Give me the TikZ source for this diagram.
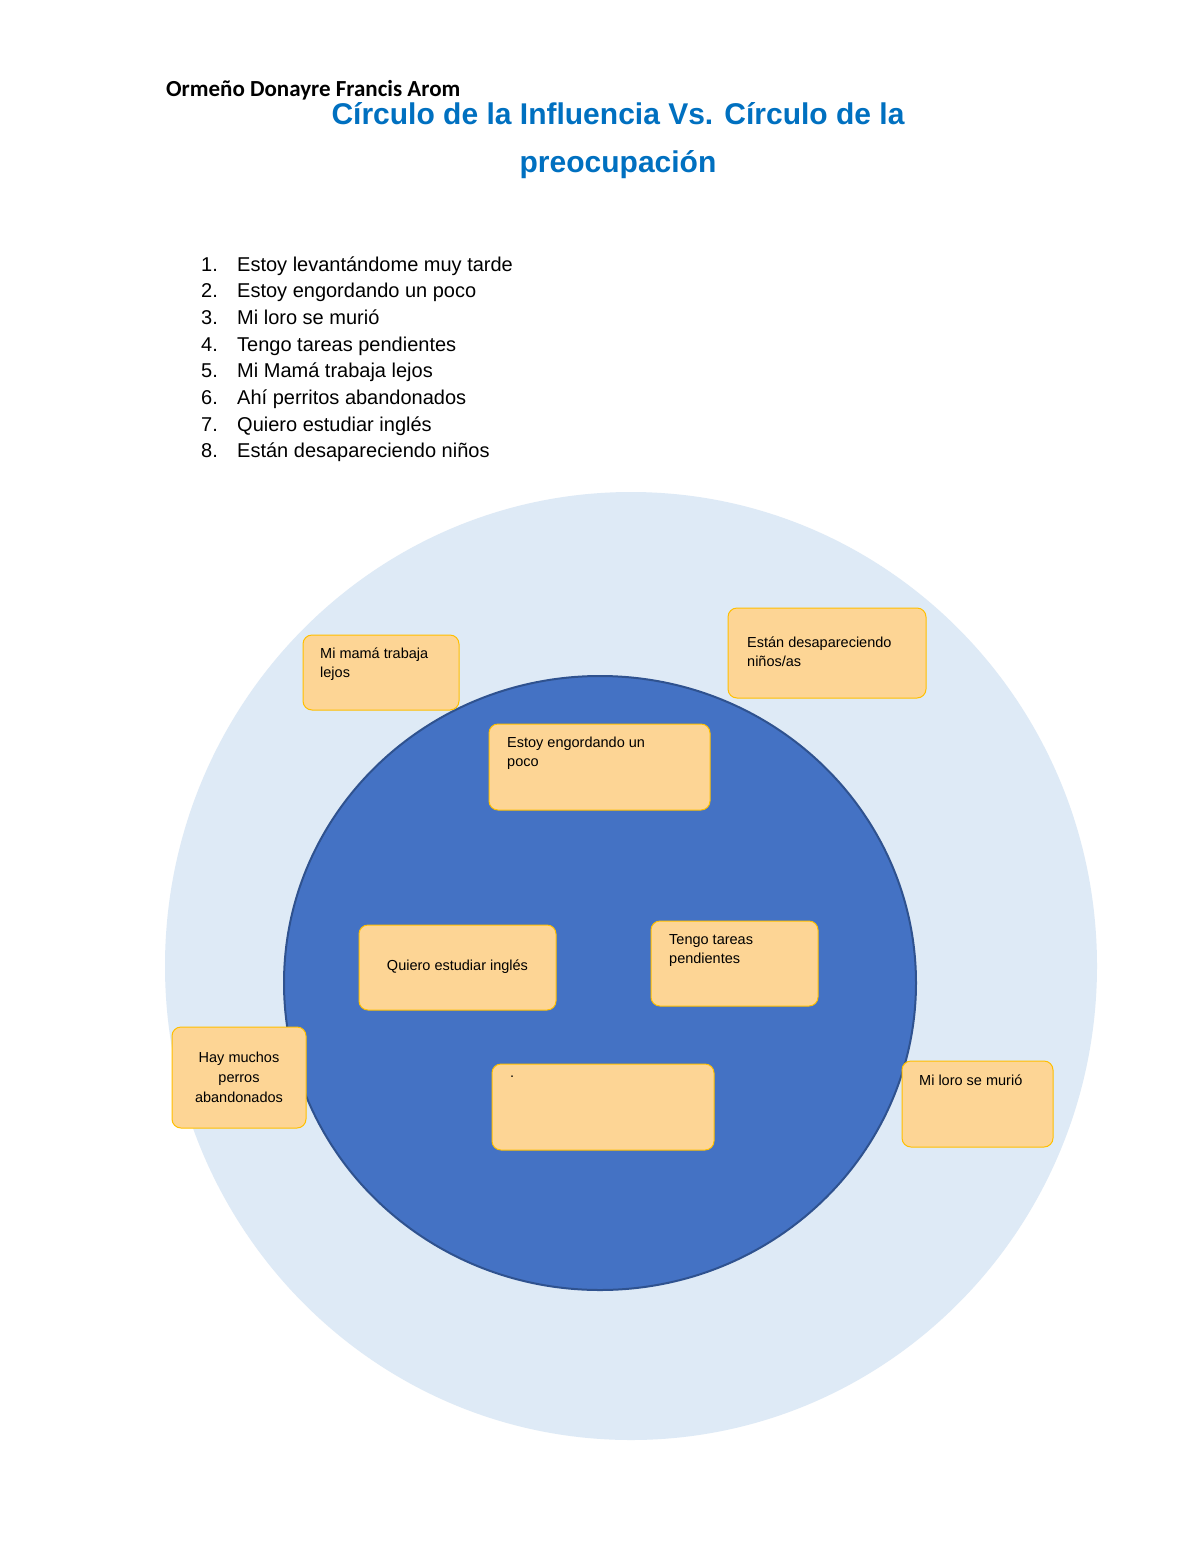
\documentclass[tikz,border=0pt]{standalone}
\usepackage{fontspec}
\setmainfont{Liberation Sans}
\newfontfamily\carl{Carlito}
\begin{document}
\begin{tikzpicture}[x=1pt,y=-1pt,
  box/.style={draw=orange!50!yellow,line width=1pt,fill=boxfill,rounded corners=9pt},
  lbl/.style={font=\fontsize{14.5}{19}\selectfont,align=left,anchor=north west,inner sep=0pt},
  item/.style={font=\fontsize{20}{24}\selectfont,anchor=base west,inner sep=0pt}]
\definecolor{boxfill}{HTML}{FDD595}
\definecolor{outerc}{HTML}{DEEAF6}
\definecolor{innerc}{HTML}{4472C4}
\definecolor{innerb}{HTML}{2F528F}
\definecolor{titlec}{HTML}{0070C0}
\useasboundingbox (0,0) rectangle (1200,1553);
\fill[white] (0,0) rectangle (1200,1553);
\node[font=\carl\bfseries\fontsize{23}{26}\selectfont,anchor=base west,inner sep=0pt] (hdr) at (166,96) {Ormeño Donayre Francis Arom};
\node[font=\bfseries\fontsize{30}{48}\selectfont,text=titlec,align=center,anchor=base,inner sep=0pt] (title) at (618,172) {Círculo de la Influencia Vs. Círculo de la\\preocupación};
\foreach \n/\t [count=\i] in {1/Estoy levantándome muy tarde,2/Estoy engordando un poco,3/Mi loro se murió,4/Tengo tareas pendientes,5/Mi Mamá trabaja lejos,6/Ahí perritos abandonados,7/Quiero estudiar inglés,8/Están desapareciendo niños/as}{
  \node[item] (n\i) at (201,{271+26.7*(\i-1)}) {\n.};
  \node[item] (t\i) at (237,{271+26.7*(\i-1)}) {\t};
}
\fill[outerc] (631,966) ellipse [x radius=466,y radius=474];
\draw[innerb,fill=innerc,line width=2pt] (600,983) ellipse [x radius=316,y radius=307];
\draw[box] (303,635) rectangle (459,710); \node[lbl] (b1) at (320,648) {Mi mamá trabaja\\lejos};
\draw[box] (728,608) rectangle (926,698); \node[lbl] (b2) at (747,637) {Están desapareciendo\\niños/as};
\draw[box] (489,724) rectangle (710,810); \node[lbl] (b3) at (507,737) {Estoy engordando un\\poco};
\draw[box] (359,925) rectangle (556,1010); \node[font=\fontsize{14.5}{19}\selectfont] (b4) at (457.5,967) {Quiero estudiar inglés};
\draw[box] (651,921) rectangle (818,1006); \node[lbl] (b5) at (669,934) {Tengo tareas\\pendientes};
\draw[box] (172,1027) rectangle (306,1128); \node[font=\fontsize{14.5}{20}\selectfont,align=center] (b6) at (239,1077) {Hay muchos\\perros\\abandonados};
\draw[box] (492,1064) rectangle (714,1150); \node[lbl] (b7) at (510,1076) {.};
\draw[box] (902,1061) rectangle (1053,1147); \node[lbl] (b8) at (919,1075) {Mi loro se murió};
\end{tikzpicture}
\end{document}
